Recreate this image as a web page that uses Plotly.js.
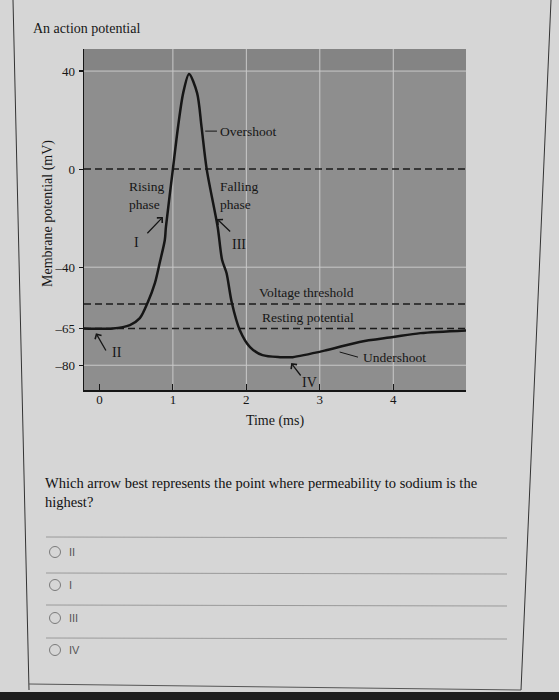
<!DOCTYPE html>
<html>
<head>
<meta charset="utf-8">
<script src="https://cdn.plot.ly/plotly-3.0.1.min.js"></script>
<style>
  html, body { margin: 0; padding: 0; background: #d6d6d6; }
  #chart { width: 559px; height: 700px; }
</style>
</head>
<body>
<div id="chart"></div>
<script>
// ---------------- data ----------------
const chartTitle = 'An action potential';
const xAxisTitle = 'Time (ms)';
const yAxisTitle = 'Membrane potential (mV)';

const timeMs = [-0.21, 0.18, 0.415, 0.55, 0.66, 0.755, 0.82, 0.89, 0.905, 1.0, 1.07, 1.14, 1.22, 1.33, 1.39, 1.46, 1.61, 1.67, 1.73, 1.80, 1.91, 2.05, 2.22, 2.46, 2.63, 3.10, 3.54, 4.0, 4.37, 4.99];
const membraneMV = [-65, -65, -63.6, -60.8, -54.2, -46.5, -38.3, -28.9, -23.7, 0, 17.2, 31.0, 38.8, 31.0, 17.2, 0, -23.7, -37.1, -42.4, -54.2, -65.6, -72.6, -75.9, -76.7, -76.7, -73.8, -70.5, -68.5, -66.9, -65.8];

const xTickVals = [0, 1, 2, 3, 4];
const xTickText = ['0', '1', '2', '3', '4'];
const yTickVals = [40, 0, -40, -65, -80];
const yTickText = ['40', '0', '\u201340', '\u201365', '\u201380'];
const gridTimes = [1, 2, 3, 4];
const gridMV = [40, -40, -80];

const zeroMV = 0;
const thresholdMV = -55;
const restingMV = -65;

const phaseLabels = ['Rising<br>phase', 'Falling<br>phase'];
const featureLabels = ['Overshoot', 'Undershoot', 'Voltage threshold', 'Resting potential'];
const arrowLabels = ['I', 'II', 'III', 'IV'];

const questionLines = ['Which arrow best represents the point where permeability to sodium is the', 'highest?'];
const options = ['II', 'I', 'III', 'IV'];

// ---------------- layout helpers ----------------
const L = 84, T = 49, W = 382, H = 341, FW = 559, FH = 700;
const PX = X => (X - L) / W;          // page pixel -> paper x
const PY = Y => (T + H - Y) / H;      // page pixel -> paper y
const serif = 'Liberation Serif, Times New Roman, serif';
const sans = 'Liberation Sans, Arial, sans-serif';
const ink = '#161616';

const shapes = [];
// darker band above 40 mV
shapes.push({type: 'rect', xref: 'paper', yref: 'y', x0: 0, x1: 1, y0: gridMV[0], y1: 49,
  fillcolor: 'rgba(0,0,0,0.07)', line: {width: 0}, layer: 'below'});
gridMV.forEach(v => shapes.push({type: 'line', xref: 'paper', yref: 'y', x0: 0, x1: 1, y0: v, y1: v,
  line: {color: '#c9c9c9', width: 1}, layer: 'below'}));
gridTimes.forEach(v => shapes.push({type: 'line', xref: 'x', yref: 'paper', x0: v, x1: v, y0: 0, y1: 1,
  line: {color: '#c9c9c9', width: 1}, layer: 'below'}));
[zeroMV, thresholdMV, restingMV].forEach(v => shapes.push({type: 'line', xref: 'paper', yref: 'y', x0: 0, x1: 1, y0: v, y1: v,
  line: {color: '#1b1b1b', width: 1.5, dash: '7px,4px'}, layer: 'below'}));
// leader lines
shapes.push({type: 'line', xref: 'x', yref: 'y', x0: 1.44, x1: 1.60, y0: 15.5, y1: 15.5, line: {color: ink, width: 1}});
shapes.push({type: 'line', xref: 'x', yref: 'y', x0: 3.27, x1: 3.52, y0: -74.6, y1: -76.7, line: {color: ink, width: 1}});

// page frame (photographed sheet)
shapes.push({type: 'line', xref: 'paper', yref: 'paper', x0: PX(13), y0: PY(0), x1: PX(29), y1: PY(690), line: {color: '#333', width: 1}});
shapes.push({type: 'line', xref: 'paper', yref: 'paper', x0: PX(551), y0: PY(0), x1: PX(521), y1: PY(690), line: {color: '#333', width: 1}});
shapes.push({type: 'line', xref: 'paper', yref: 'paper', x0: PX(29), y0: PY(684), x1: PX(521), y1: PY(690), line: {color: '#555', width: 1}});
shapes.push({type: 'rect', xref: 'paper', yref: 'paper', x0: PX(0), y0: PY(692), x1: PX(FW), y1: PY(FH + 5), fillcolor: '#1e1e1e', line: {width: 0}});
// quiz separators
[537, 573, 605, 638].forEach(y => shapes.push({type: 'line', xref: 'paper', yref: 'paper', x0: PX(46), x1: PX(507), y0: PY(y), y1: PY(y + 1),
  line: {color: '#9a9a9a', width: 1}}));
// radio circles
const optY = [552, 585, 618, 650];
optY.forEach(y => shapes.push({type: 'circle', xref: 'paper', yref: 'paper', xsizemode: 'pixel', ysizemode: 'pixel',
  xanchor: PX(55), yanchor: PY(y), x0: -5.5, x1: 5.5, y0: -5.5, y1: 5.5, line: {color: '#7a7a7a', width: 1}, fillcolor: 'rgba(0,0,0,0)'}));

const annotations = [];
const txt = (text, x, y, opts = {}) => Object.assign({text, x, y, xref: 'x', yref: 'y', showarrow: false,
  font: {family: serif, size: 13.5, color: ink}, xanchor: 'left', yanchor: 'middle', align: 'left'}, opts);

annotations.push(txt(phaseLabels[0], 0.37, -10.6));
annotations.push(txt(phaseLabels[1], 1.61, -10.6));
annotations.push(txt(featureLabels[0], 1.61, 15.5));
annotations.push(txt(featureLabels[1], 3.56, -76.7));
annotations.push(txt(featureLabels[2], 2.14, -50.3));
annotations.push(txt(featureLabels[3], 2.18, -60.5));

// arrows [head t, head mV], [tail t, tail mV], label position
const arrowGeom = [
  {h: [0.864, -19.5], t: [0.633, -26.8], l: [0.51, -30.1]},
  {h: [-0.048, -66.9], t: [0.10, -74.6], l: [0.24, -75.0]},
  {h: [1.60, -20.3], t: [1.80, -26.0], l: [1.90, -30.9]},
  {h: [2.61, -79.1], t: [2.755, -84.8], l: [2.86, -86.9]}
];
arrowLabels.forEach((lab, i) => {
  const g = arrowGeom[i];
  annotations.push({text: '', x: g.h[0], y: g.h[1], ax: g.t[0], ay: g.t[1], xref: 'x', yref: 'y', axref: 'x', ayref: 'y',
    showarrow: true, arrowhead: 4, arrowsize: 1.1, arrowwidth: 1.3, arrowcolor: ink, standoff: 0});
  annotations.push(txt(lab, g.l[0], g.l[1], {xanchor: 'center', font: {family: serif, size: 14, color: ink}}));
});

// y axis title placed precisely
annotations.push({text: yAxisTitle, xref: 'paper', yref: 'paper', x: PX(48), y: PY(214), textangle: -90,
  xanchor: 'center', yanchor: 'middle', showarrow: false, font: {family: serif, size: 14, color: ink}});

// question + options
questionLines.forEach((q, i) => annotations.push({text: q, xref: 'paper', yref: 'paper', x: PX(43), y: PY(483 + i * 19),
  xanchor: 'left', yanchor: 'middle', showarrow: false, font: {family: serif, size: 14.5, color: '#111'}}));
options.forEach((o, i) => annotations.push({text: o, xref: 'paper', yref: 'paper', x: PX(67), y: PY(optY[i]),
  xanchor: 'left', yanchor: 'middle', showarrow: false, font: {family: sans, size: 11, color: '#555'}}));

const trace = {
  x: timeMs, y: membraneMV, type: 'scatter', mode: 'lines',
  line: {color: ink, width: 2.5, shape: 'spline', smoothing: 0.8},
  hoverinfo: 'skip'
};

const layout = {
  width: FW, height: FH,
  margin: {l: L, r: FW - L - W, t: T, b: FH - T - H, pad: 0},
  paper_bgcolor: '#d6d6d6',
  plot_bgcolor: '#8e8e8e',
  showlegend: false,
  title: {text: chartTitle, xref: 'container', yref: 'container', x: 33 / FW, y: 1 - 28 / FH,
    xanchor: 'left', yanchor: 'middle', font: {family: serif, size: 14, color: ink}},
  xaxis: {
    range: [-0.21, 4.99], tickvals: xTickVals, ticktext: xTickText,
    ticks: 'inside', ticklen: 6, tickwidth: 1.2, tickcolor: ink,
    showline: true, linecolor: ink, linewidth: 1.5, showgrid: false, zeroline: false,
    tickfont: {family: serif, size: 13, color: ink}, ticklabelstandoff: -3,
    title: {text: xAxisTitle, font: {family: serif, size: 14, color: ink}, standoff: 9},
    fixedrange: true
  },
  yaxis: {
    range: [-90.1, 49.0], tickvals: yTickVals, ticktext: yTickText,
    ticks: 'outside', ticklen: 4, tickwidth: 1.2, tickcolor: ink,
    showline: true, linecolor: ink, linewidth: 1.5, showgrid: false, zeroline: false,
    tickfont: {family: serif, size: 13, color: ink}, ticklabelstandoff: 1,
    fixedrange: true
  },
  shapes, annotations
};

Plotly.newPlot('chart', [trace], layout, {displayModeBar: false, staticPlot: true});
</script>
</body>
</html>
